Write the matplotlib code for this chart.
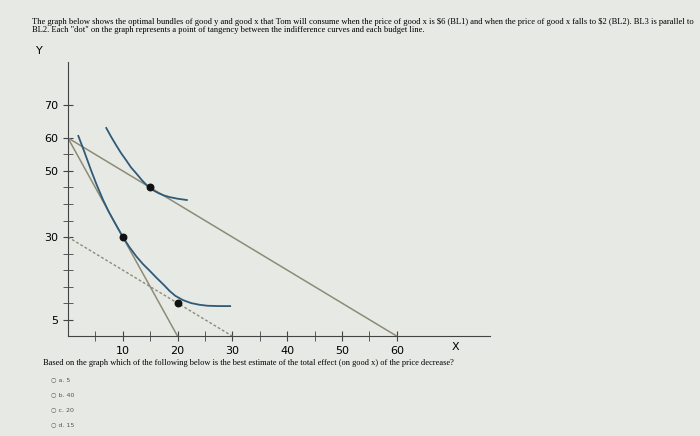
import numpy as np
import matplotlib.pyplot as plt

# budget lines (x intercept, y intercept)
bl1 = [(0, 60), (20, 0)]
bl2 = [(0, 60), (60, 0)]
bl3 = [(0, 30), (30, 0)]

# indifference curves
ic_low_x = [1.9, 3.0, 4.2, 5.2, 6.4, 7.5, 8.8, 10.0, 11.2, 12.5, 13.7, 14.8, 16.2, 17.5, 18.6, 19.6, 21.0, 22.5, 24.0, 25.5, 27.5, 29.6]
ic_low_y = [60.6, 55.8, 50.3, 46.0, 41.3, 37.5, 33.6, 30.1, 27.0, 24.1, 21.8, 20.0, 17.6, 15.5, 13.6, 12.2, 10.9, 10.0, 9.5, 9.2, 9.1, 9.1]
ic_high_x = [7.0, 7.9, 8.8, 9.7, 10.6, 11.5, 12.5, 13.5, 14.5, 15.5, 16.5, 17.5, 18.5, 20.0, 21.7]
ic_high_y = [63.0, 60.3, 57.8, 55.4, 53.3, 51.1, 49.2, 47.2, 45.5, 44.2, 43.3, 42.6, 42.1, 41.6, 41.2]

dots_x = [15, 10, 20]
dots_y = [45, 30, 10]

x_major = [10, 20, 30, 40, 50, 60]
y_labels = [5, 30, 50, 60, 70]

bg = '#e7e9e4'
fig = plt.figure(figsize=(7, 4.36), dpi=100, facecolor=bg)
ax = fig.add_axes([0.097, 0.229, 0.603, 0.629], facecolor=bg)

line_col = '#8d8b78'
ic_col = '#2f5a78'
ax.plot(*zip(*bl1), color=line_col, lw=1.1)
ax.plot(*zip(*bl2), color=line_col, lw=1.1)
ax.plot(*zip(*bl3), color=line_col, lw=1.0, ls=(0, (2, 1.5)))
ax.plot(ic_low_x, ic_low_y, color=ic_col, lw=1.3)
ax.plot(ic_high_x, ic_high_y, color=ic_col, lw=1.3)
ax.scatter(dots_x, dots_y, s=22, color='#111111', marker='o', zorder=5)

ax.set_xlim(0, 77)
ax.set_ylim(0, 83)
for s in ['top', 'right']:
    ax.spines[s].set_visible(False)
for s in ['left', 'bottom']:
    ax.spines[s].set_color('#444444')

ax.set_xticks(np.arange(5, 65, 5), minor=True)
ax.set_xticks(x_major)
ax.set_xticklabels([str(v) for v in x_major], fontsize=8)
ax.set_yticks(np.arange(10, 60, 5), minor=True)
ax.set_yticks(y_labels)
ax.set_yticklabels([str(v) for v in y_labels], fontsize=8)
ax.tick_params(which='both', direction='inout', length=7, color='#444444')

fig.text(0.052, 0.875, 'Y', fontsize=8)
fig.text(0.645, 0.198, 'X', fontsize=8)

top = ('The graph below shows the optimal bundles of good y and good x that Tom will consume when the price of good x is \\$6 (BL1) '
       'and when the price of good x falls to \\$2 (BL2). BL3 is parallel to\n'
       'BL2. Each "dot" on the graph represents a point of tangency between the indifference curves and each budget line.')
fig.text(0.046, 0.94, top, fontsize=6.1, family='Liberation Serif', va='center', linespacing=1.0)
fig.text(0.062, 0.167, 'Based on the graph which of the following below is the best estimate of the total effect (on good x) of the price decrease?',
         fontsize=6.0, family='Liberation Serif', va='center')
for i, opt in enumerate(['a. 5', 'b. 40', 'c. 20', 'd. 15']):
    fig.text(0.073, 0.13 - i * 0.035, '○ ' + opt, fontsize=4.5, va='center', color='#555555')

fig.savefig('out.png', dpi=100, facecolor=bg)
